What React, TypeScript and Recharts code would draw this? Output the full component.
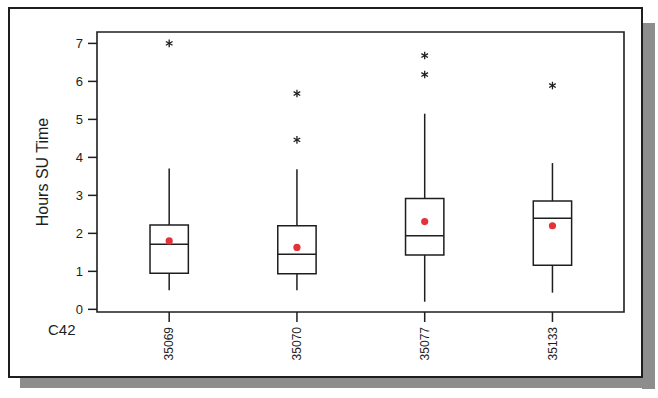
import React from "react";
import {
  ComposedChart,
  XAxis,
  YAxis,
  Scatter,
  ReferenceArea,
  ReferenceLine,
  Label,
} from "recharts";

// box plot stats, one entry per machine (C42)
const categories = ["35069", "35070", "35077", "35133"];
const whiskerLow = [0.5, 0.5, 0.2, 0.44];
const q1 = [0.95, 0.94, 1.43, 1.16];
const median = [1.71, 1.45, 1.94, 2.4];
const q3 = [2.22, 2.2, 2.92, 2.85];
const whiskerHigh = [3.71, 3.69, 5.15, 3.85];
const means = [1.8, 1.63, 2.31, 2.2];
const outliers = [[7.0], [5.68, 4.46], [6.68, 6.18], [5.89]];
const yTicks = [0, 1, 2, 3, 4, 5, 6, 7];

const BOX_HALF = 0.15;
const INK = "#1e1e1e";
const FONT = "'Liberation Sans', Arial, sans-serif";

const meanData = categories.map((_, i) => ({ x: i + 1, y: means[i] }));
const outlierData = outliers.flatMap((vals, i) =>
  vals.map((v) => ({ x: i + 1, y: v }))
);

const CategoryTick = (props: any) => {
  const { x, y, payload } = props;
  return (
    <text
      x={x}
      y={y}
      transform={`rotate(-90 ${x} ${y})`}
      textAnchor="end"
      dy="0.35em"
      fontSize={12}
      fontFamily={FONT}
      fill={INK}
    >
      {categories[payload.value - 1]}
    </text>
  );
};

const Asterisk = (props: any) => {
  const { cx, cy } = props;
  const r = 3.8;
  const dx = r * 0.87;
  const dy = r * 0.5;
  return (
    <g stroke={INK} strokeWidth={1.3}>
      <line x1={cx} y1={cy - r} x2={cx} y2={cy + r} />
      <line x1={cx - dx} y1={cy - dy} x2={cx + dx} y2={cy + dy} />
      <line x1={cx - dx} y1={cy + dy} x2={cx + dx} y2={cy - dy} />
    </g>
  );
};

const MeanDot = (props: any) => {
  const { cx, cy } = props;
  return <circle cx={cx} cy={cy} r={3.6} fill="#e3323a" />;
};

const YTitle = (props: any) => {
  const { viewBox } = props;
  const cx = 42;
  const cy = viewBox.y + viewBox.height / 2;
  return (
    <text
      x={cx}
      y={cy}
      transform={`rotate(-90 ${cx} ${cy})`}
      textAnchor="middle"
      dy="0.35em"
      fontSize={16}
      fontFamily={FONT}
      fill={INK}
    >
      Hours SU Time
    </text>
  );
};

export default function App() {
  return (
    <div
      style={{
        position: "absolute",
        top: 0,
        left: 0,
        width: 658,
        height: 398,
        background: "#fff",
        fontFamily: FONT,
      }}
    >
      {/* drop shadow of the printed frame */}
      <div style={{ position: "absolute", left: 642, top: 23, width: 13, height: 366, background: "#8d8d8d" }} />
      <div style={{ position: "absolute", left: 20, top: 377, width: 635, height: 11, background: "#8d8d8d" }} />
      <div
        style={{
          position: "absolute",
          left: 8,
          top: 7,
          width: 635,
          height: 371,
          border: `2px solid ${INK}`,
          boxSizing: "border-box",
          background: "#fff",
        }}
      />
      <div
        style={{
          position: "absolute",
          left: 48,
          top: 321,
          fontSize: 15,
          color: INK,
          lineHeight: "18px",
        }}
      >
        C42
      </div>
      <div style={{ position: "absolute", left: 0, top: 0 }}>
        <ComposedChart
          width={658}
          height={398}
          margin={{ top: 32, right: 34, bottom: 26, left: 42 }}
        >
          <XAxis
            type="number"
            dataKey="x"
            domain={[0.435, 4.56]}
            ticks={[1, 2, 3, 4]}
            allowDataOverflow
            height={60}
            axisLine={false}
            tickSize={10}
            tickMargin={5}
            tickLine={{ stroke: INK, strokeWidth: 1.5 }}
            tick={<CategoryTick />}
          />
          <YAxis
            type="number"
            dataKey="y"
            domain={[-0.07, 7.3]}
            ticks={yTicks}
            allowDataOverflow
            width={55}
            axisLine={false}
            tickSize={9}
            tickMargin={5}
            tickLine={{ stroke: INK, strokeWidth: 1.5 }}
            tick={{ fill: INK, fontSize: 13, fontFamily: FONT }}
          >
            <Label content={<YTitle />} />
          </YAxis>

          {/* plot frame */}
          <ReferenceArea
            x1={0.435}
            x2={4.56}
            y1={-0.07}
            y2={7.3}
            fill="none"
            fillOpacity={0}
            stroke={INK}
            strokeWidth={1.6}
            ifOverflow="visible"
          />

          {categories.map((c, i) => (
            <React.Fragment key={c}>
              <ReferenceArea
                x1={i + 1 - BOX_HALF}
                x2={i + 1 + BOX_HALF}
                y1={q1[i]}
                y2={q3[i]}
                fill="#fff"
                fillOpacity={0}
                stroke={INK}
                strokeWidth={1.5}
              />
              <ReferenceLine
                segment={[
                  { x: i + 1 - BOX_HALF, y: median[i] },
                  { x: i + 1 + BOX_HALF, y: median[i] },
                ]}
                stroke={INK}
                strokeWidth={1.5}
              />
              <ReferenceLine
                segment={[
                  { x: i + 1, y: q3[i] },
                  { x: i + 1, y: whiskerHigh[i] },
                ]}
                stroke={INK}
                strokeWidth={1.5}
              />
              <ReferenceLine
                segment={[
                  { x: i + 1, y: whiskerLow[i] },
                  { x: i + 1, y: q1[i] },
                ]}
                stroke={INK}
                strokeWidth={1.5}
              />
            </React.Fragment>
          ))}

          <Scatter data={meanData} shape={<MeanDot />} isAnimationActive={false} />
          <Scatter data={outlierData} shape={<Asterisk />} isAnimationActive={false} />
        </ComposedChart>
      </div>
    </div>
  );
}
